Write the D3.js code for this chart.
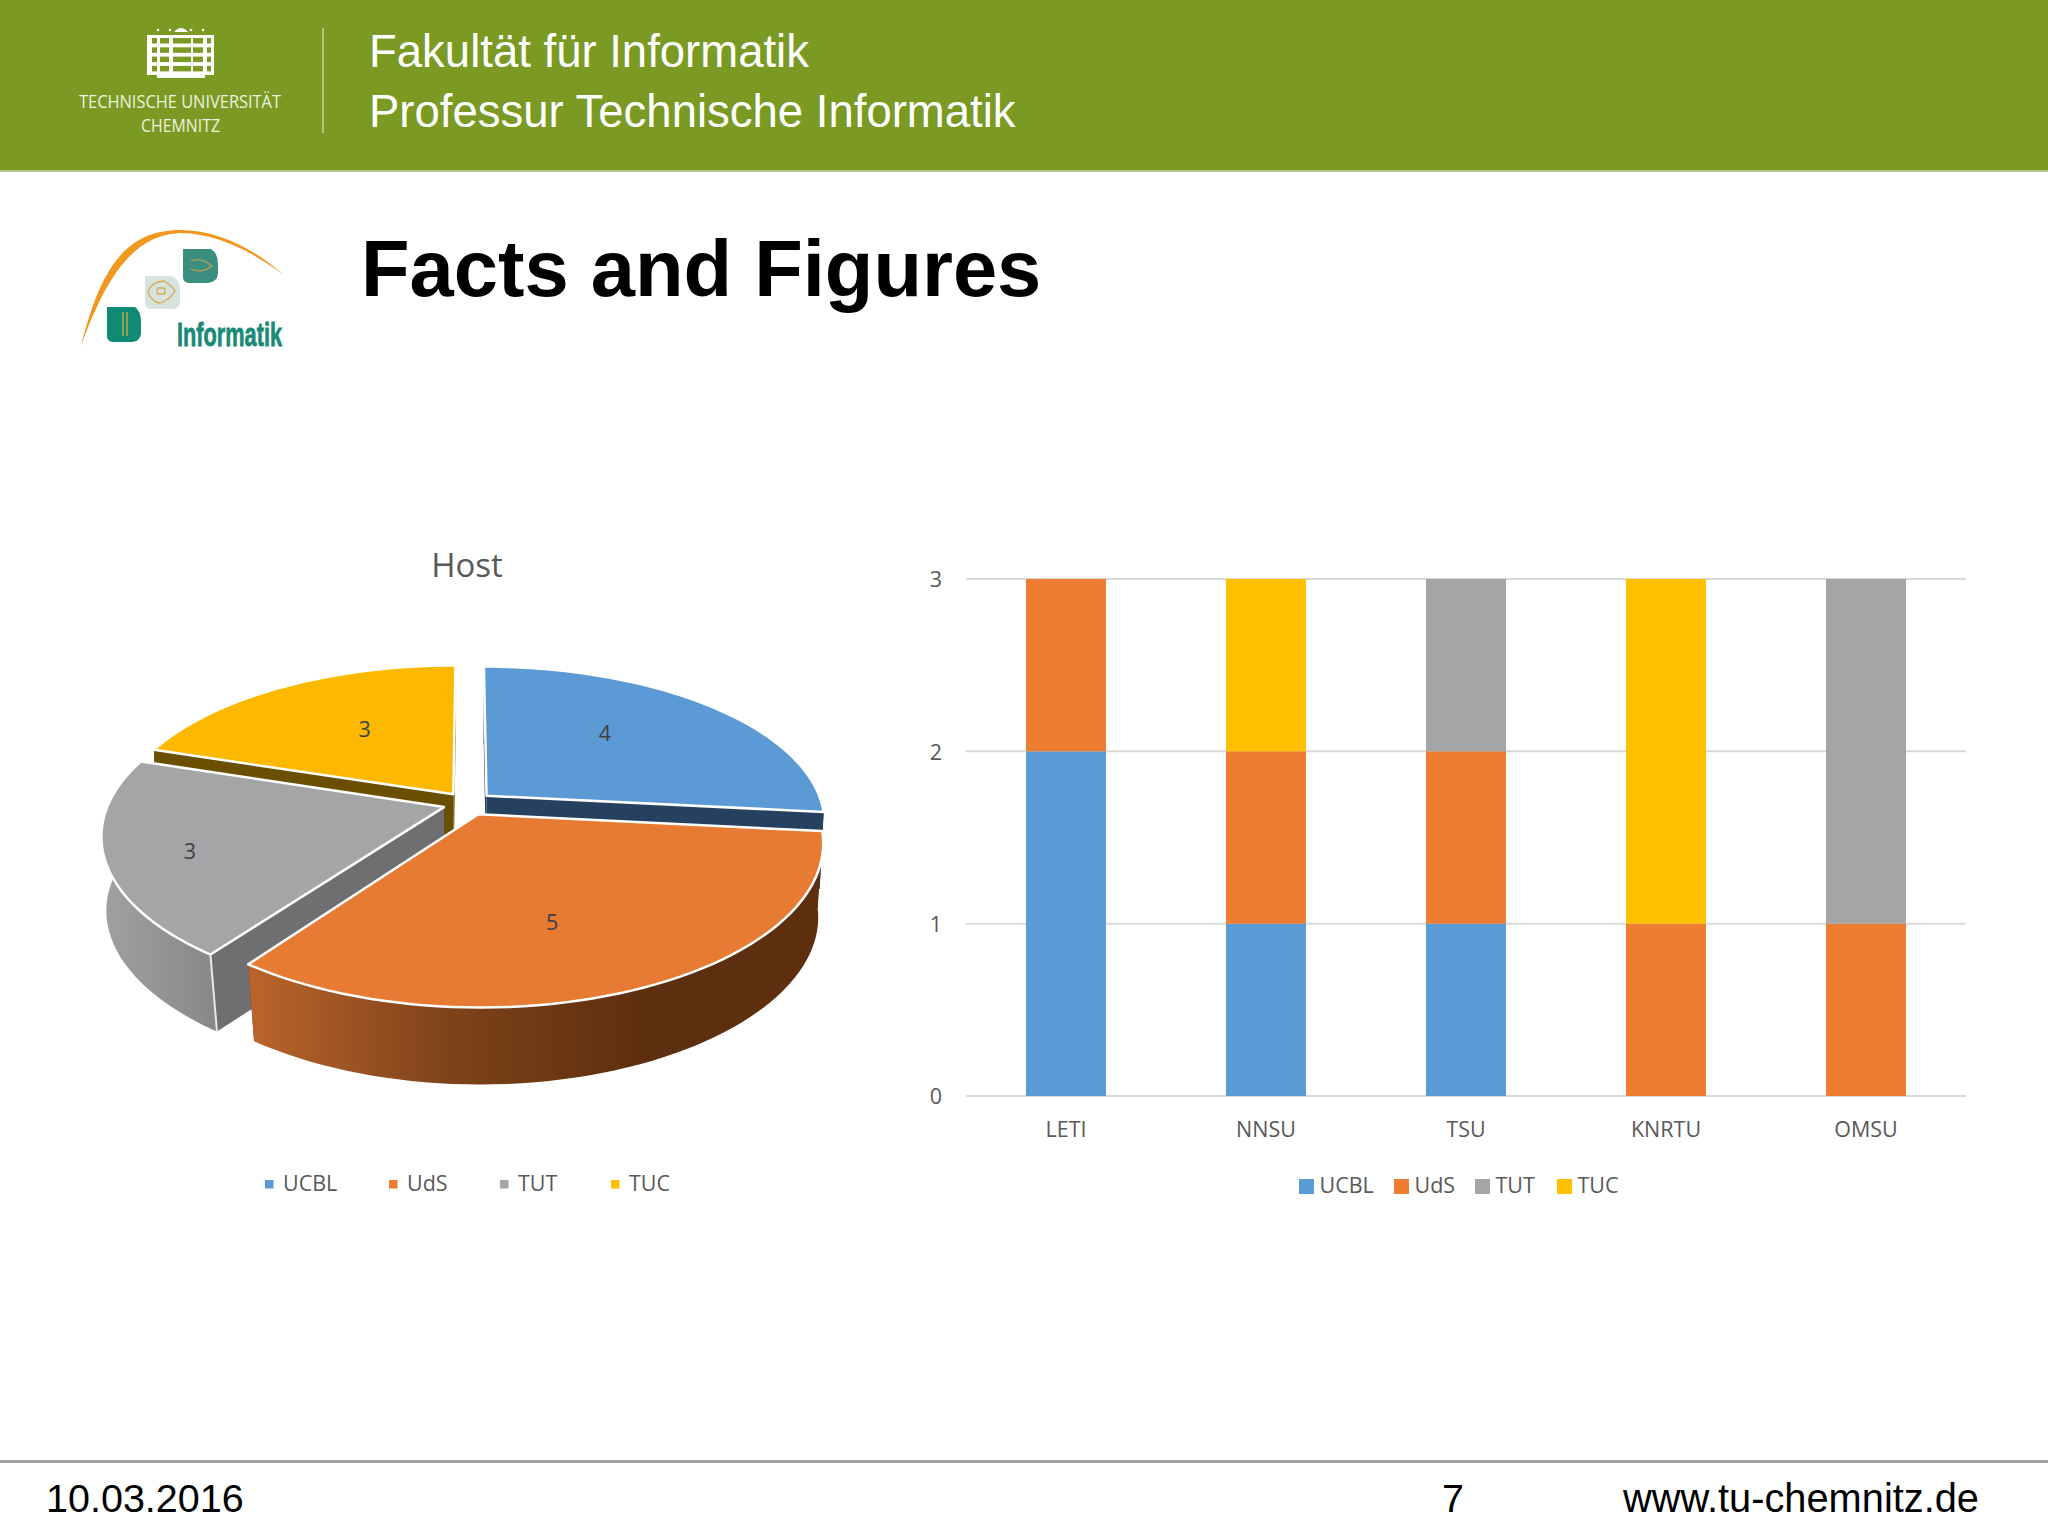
<!DOCTYPE html>
<html>
<head>
<meta charset="utf-8">
<script src="https://cdn.jsdelivr.net/npm/d3@7"></script>
<style>
  html, body { margin: 0; padding: 0; background: #fff; }
  svg { display: block; }
  text { font-family: "Open Sans", sans-serif; fill: #595959; }
  .slide text { font-family: "Liberation Sans", Arial, sans-serif; }
</style>
</head>
<body>
<div id="chart"></div>
<script>
// pie chart values
var hostNames = ["UCBL", "UdS", "TUT", "TUC"];
var hostValues = [4, 5, 3, 3];

// stacked bars
var universities = ["LETI", "NNSU", "TSU", "KNRTU", "OMSU"];
var ucblValues = [2, 1, 1, 0, 0];
var udsValues = [1, 1, 1, 1, 1];
var tutValues = [0, 0, 1, 0, 2];
var tucValues = [0, 1, 0, 2, 0];
var barTicks = [0, 1, 2, 3];

var colors = ["#5b9bd5", "#ed7d31", "#a5a5a5", "#ffc000"];
var pieTops = ["#5b9ad5", "#e77b33", "#a5a4a6", "#fdb900"];
var pieCuts = ["#264060", "#5e2f0f", "#6f6e70", "#6b4f00"];

var svg = d3.select("#chart").append("svg")
  .attr("width", 2048)
  .attr("height", 1536);

var defs = svg.append("defs");

// ---- slide frame ----
var slide = svg.append("g").attr("class", "slide");
var headerGreen = "#7a9a24";

slide.append("rect").attr("width", 2048).attr("height", 171).attr("fill", headerGreen);
slide.append("rect").attr("y", 170).attr("width", 2048).attr("height", 2).attr("fill", "#b5c987");
slide.append("line").attr("x1", 323).attr("x2", 323).attr("y1", 28).attr("y2", 133)
  .attr("stroke", "#c9d6a0").attr("stroke-width", 1.5);

function slideText(str, x, y, size, color, weight, anchor) {
  return slide.append("text")
    .attr("x", x).attr("y", y)
    .attr("font-size", size)
    .attr("font-weight", weight || "normal")
    .attr("text-anchor", anchor || "start")
    .style("fill", color)
    .text(str);
}

slideText("Fakultät für Informatik", 369, 67, 45.5, "#fff");
slideText("Professur Technische Informatik", 369, 127, 45.5, "#fff");
slideText("Facts and Figures", 361, 296, 79.5, "#000", "bold");
slideText("10.03.2016", 46, 1512, 39.5, "#000");
slideText("7", 1453, 1512, 39.5, "#000", "normal", "middle");
slideText("www.tu-chemnitz.de", 1979, 1512, 39.8, "#000", "normal", "end");

slide.append("rect").attr("y", 1460).attr("width", 2048).attr("height", 3).attr("fill", "#a0a0a0");

// TU Chemnitz building mark
var mark = slide.append("g");
mark.append("rect").attr("x", 147).attr("y", 35).attr("width", 67).attr("height", 40).attr("fill", "#fff");
mark.append("rect").attr("x", 157).attr("y", 73).attr("width", 48).attr("height", 5).attr("fill", "#fff");
mark.append("path").attr("d", "M174,32 Q181,24 188,32 Z").attr("fill", "#fff");
[158, 170, 191, 203].forEach(function(x) {
  mark.append("circle").attr("cx", x).attr("cy", 30).attr("r", 1.3).attr("fill", "#fff");
});
var cellCols = [[152, 5], [160, 9], [173, 18], [193, 10], [207, 4]];
d3.range(4).forEach(function(r) {
  cellCols.forEach(function(c) {
    mark.append("rect")
      .attr("x", c[0]).attr("y", 38 + r * 9.3)
      .attr("width", c[1]).attr("height", 5.5)
      .attr("fill", headerGreen);
  });
});
slideText("TECHNISCHE UNIVERSITÄT", 180, 107.5, 17.5, "#eef2df", "normal", "middle")
  .style("font-family", "'Open Sans', sans-serif")
  .attr("textLength", 202).attr("lengthAdjust", "spacingAndGlyphs");
slideText("CHEMNITZ", 180.5, 131.5, 17.5, "#eef2df", "normal", "middle")
  .style("font-family", "'Open Sans', sans-serif")
  .attr("textLength", 79).attr("lengthAdjust", "spacingAndGlyphs");

// Informatik logo
var logo = slide.append("g");
logo.append("path")
  .attr("d", "M81,346 C100,270 125,230 180,230 C220,230 255,250 284,275 C255,254 220,233.5 180,233 C132,235 105,280 81,346 Z")
  .attr("fill", "#f0981f");
logo.append("path").attr("d", "M183,249 H211 Q218,253 218,264 V274 Q217,282 208,283 H188 Q183,282 183,277 Z").attr("fill", "#3a8f80");
logo.append("path").attr("d", "M191,261 Q201,257 212,266 Q201,274 191,269").attr("fill", "none").attr("stroke", "#c9a24a").attr("stroke-width", 1.2);
logo.append("path").attr("d", "M145,276 H172 Q180,279 180,290 V303 Q179,309 172,309 H150 Q145,308 145,303 Z").attr("fill", "#d7e3de");
logo.append("path").attr("d", "M164,281 Q150,282 148,293 Q152,302 160,303 Q170,300 175,291 Q171,285 164,281").attr("fill", "none").attr("stroke", "#dba84a").attr("stroke-width", 1.3);
logo.append("rect").attr("x", 157).attr("y", 288).attr("width", 8).attr("height", 6).attr("rx", 2).attr("fill", "none").attr("stroke", "#dba84a").attr("stroke-width", 1.3);
logo.append("path").attr("d", "M107,307 H135 Q141,311 141,322 V334 Q140,341 132,342 H112 Q107,341 107,336 Z").attr("fill", "#0f8a74");
[123, 127].forEach(function(x) {
  logo.append("rect").attr("x", x - 0.7).attr("y", 312).attr("width", 1.4).attr("height", 24).attr("fill", "#c9a93f");
});
slideText("Informatik", 177, 346, 34, "#1a8a78", "bold")
  .attr("textLength", 105).attr("lengthAdjust", "spacingAndGlyphs")
  .style("stroke", "#1a8a78").style("stroke-width", 0.8);

// ---- 3D pie ----
// screen position of a point on the exploded disc, with some perspective
var pieX = 468, pieY = 803.5, pieRadius = 335.5, pieDepth = 154.7;
var perspectiveY = 0.1775, perspectiveX = 0.17, explode = 0.075, wallHeight = 77;

function project(angle, rho, mid) {
  var u = rho * Math.sin(angle) + explode * Math.sin(mid);
  var v = -rho * Math.cos(angle) - explode * Math.cos(mid);
  return [
    pieX + pieRadius * u / (1 - perspectiveX * v),
    pieY + pieDepth * v / (1 - perspectiveY * v)
  ];
}

// the underside of the pie sits lower and a little narrower toward the front
function lower(pt) {
  var s = 0.99 - 0.0001 * Math.max(0, pt[1] - 800);
  return [pieX + (pt[0] - pieX) * s, pt[1] + wallHeight];
}

var pieLine = d3.line();
var pieSlices = d3.pie().sort(null)(hostValues);

function rim(s) {
  return d3.range(0, 61).map(function(i) {
    return project(s.startAngle + (s.endAngle - s.startAngle) * i / 60, 1, (s.startAngle + s.endAngle) / 2);
  });
}

function cutWall(s, angle) {
  var mid = (s.startAngle + s.endAngle) / 2;
  var a = project(angle, 0, mid), b = project(angle, 1, mid);
  return pieLine([a, b, lower(b), lower(a)]) + "Z";
}

var orangeWall = defs.append("linearGradient").attr("id", "wall1")
  .attr("gradientUnits", "userSpaceOnUse")
  .attr("x1", 250).attr("x2", 640).attr("y1", 0).attr("y2", 0);
orangeWall.append("stop").attr("offset", 0).attr("stop-color", "#bb642c");
orangeWall.append("stop").attr("offset", 0.5).attr("stop-color", "#7f4319");
orangeWall.append("stop").attr("offset", 1).attr("stop-color", "#5e2f0f");

var greyWall = defs.append("linearGradient").attr("id", "wall2")
  .attr("gradientUnits", "userSpaceOnUse")
  .attr("x1", 105).attr("x2", 215).attr("y1", 0).attr("y2", 0);
greyWall.append("stop").attr("offset", 0).attr("stop-color", "#a0a0a2");
greyWall.append("stop").attr("offset", 1).attr("stop-color", "#88888a");

var wallFills = [pieCuts[0], "url(#wall1)", "url(#wall2)", pieCuts[3]];
var pie3d = svg.append("g");

// back to front so the nearer slices cover the others
[3, 0, 2, 1].forEach(function(i) {
  var s = pieSlices[i];
  var mid = (s.startAngle + s.endAngle) / 2;
  var edge = rim(s);

  pie3d.append("path").attr("d", cutWall(s, s.startAngle)).attr("fill", pieCuts[i]);
  pie3d.append("path").attr("d", cutWall(s, s.endAngle)).attr("fill", pieCuts[i]);
  pie3d.append("path")
    .attr("d", pieLine(edge.concat(edge.map(lower).reverse())) + "Z")
    .attr("fill", wallFills[i]);
  pie3d.append("path")
    .attr("d", pieLine([project(0, 0, mid)].concat(edge)) + "Z")
    .attr("fill", pieTops[i])
    .attr("stroke", "#fff")
    .attr("stroke-width", 2.5)
    .attr("stroke-linejoin", "round");

  if (i == 2) {
    // bright corner where the two grey walls meet
    pie3d.append("path")
      .attr("d", pieLine([edge[0], lower(edge[0])]))
      .attr("stroke", "#e8e8e8").attr("stroke-width", 2);
  }
});

// value labels, moved off the slice middle a little as in the picture
var labelRho = [0.59, 0.637, 0.765, 0.55];
var labelTurn = [-7, 6.5, -2.4, 4];
pieSlices.forEach(function(s, i) {
  var mid = (s.startAngle + s.endAngle) / 2;
  var pt = project(mid + labelTurn[i] * Math.PI / 180, labelRho[i], mid);
  svg.append("text")
    .attr("x", pt[0]).attr("y", pt[1])
    .attr("dy", "0.36em")
    .attr("text-anchor", "middle")
    .attr("font-size", 21.5)
    .style("fill", "#404040")
    .text(s.data);
});

svg.append("text")
  .attr("x", 467).attr("y", 577)
  .attr("text-anchor", "middle")
  .attr("font-size", 33)
  .text("Host");

// pie legend
var pieLegendX = [265, 389, 500, 611];
hostNames.forEach(function(name, i) {
  svg.append("rect")
    .attr("x", pieLegendX[i]).attr("y", 1180)
    .attr("width", 8.5).attr("height", 8.5)
    .attr("fill", colors[i]);
  svg.append("text")
    .attr("x", pieLegendX[i] + 18).attr("y", 1191)
    .attr("font-size", 21.5)
    .text(name);
});

// ---- stacked bars ----
var margin = { top: 579, left: 966 };
var chartWidth = 1000;
var chartHeight = 517;

var chartGroup = svg.append("g")
  .attr("transform", `translate(${margin.left},${margin.top})`);

var xScale = d3.scaleBand().domain(universities).range([0, chartWidth]).paddingInner(0.6).paddingOuter(0.3);
var yScale = d3.scaleLinear().domain([0, 3]).range([chartHeight, 0]);

chartGroup.selectAll(".grid")
  .data(barTicks)
  .enter()
  .append("line")
  .attr("class", "grid")
  .attr("x1", 0)
  .attr("x2", chartWidth)
  .attr("y1", d => yScale(d))
  .attr("y2", d => yScale(d))
  .attr("stroke", "#d9d9d9")
  .attr("stroke-width", 2);

var barRows = universities.map(function(u, i) {
  return { name: u, UCBL: ucblValues[i], UdS: udsValues[i], TUT: tutValues[i], TUC: tucValues[i] };
});
var stacked = d3.stack().keys(hostNames)(barRows);

chartGroup.selectAll(".series")
  .data(stacked)
  .enter()
  .append("g")
  .attr("class", "series")
  .attr("fill", (d, i) => colors[i])
  .selectAll("rect")
  .data(d => d)
  .enter()
  .append("rect")
  .attr("x", d => xScale(d.data.name))
  .attr("width", xScale.bandwidth())
  .attr("y", d => yScale(d[1]))
  .attr("height", d => yScale(d[0]) - yScale(d[1]));

var yAxis = d3.axisLeft(yScale).tickValues(barTicks).tickSize(0).tickPadding(24).tickFormat(d3.format("d"));
var xAxis = d3.axisBottom(xScale).tickSize(0).tickPadding(26);

chartGroup.append("g").attr("class", "yAxis").attr("transform", "translate(0,1)").call(yAxis);
chartGroup.append("g").attr("transform", `translate(0,${chartHeight})`).call(xAxis);
chartGroup.selectAll(".domain").remove();
chartGroup.selectAll(".tick text")
  .style("font-family", "'Open Sans', sans-serif")
  .style("font-size", "21.5px")
  .style("fill", "#595959");

// bar legend
var barLegendX = [1299, 1394, 1475, 1557];
hostNames.forEach(function(name, i) {
  svg.append("rect")
    .attr("x", barLegendX[i]).attr("y", 1179)
    .attr("width", 15).attr("height", 15)
    .attr("fill", colors[i]);
  svg.append("text")
    .attr("x", barLegendX[i] + 20.5).attr("y", 1193)
    .attr("font-size", 21.5)
    .text(name);
});
</script>
</body>
</html>
